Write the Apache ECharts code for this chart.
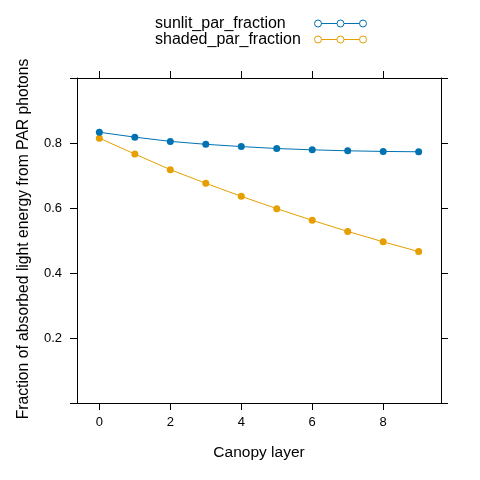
<!DOCTYPE html>
<html>
<head>
<meta charset="utf-8">
<script src="https://cdn.jsdelivr.net/npm/echarts@6/dist/echarts.min.js"></script>
<style>
  html, body { margin: 0; padding: 0; background: #fff; }
  #chart { width: 480px; height: 480px; }
</style>
</head>
<body>
<div id="chart"></div>
<script>
const layers = [0, 1, 2, 3, 4, 5, 6, 7, 8, 9];
const sunlit = [0.833, 0.818, 0.805, 0.796, 0.789, 0.783, 0.779, 0.776, 0.774, 0.773];
const shaded = [0.815, 0.766, 0.718, 0.676, 0.636, 0.598, 0.562, 0.528, 0.496, 0.466];
const xTicks = [0, 2, 4, 6, 8];
const seriesNames = ['sunlit_par_fraction', 'shaded_par_fraction'];
const colors = ['#0072B2', '#E69F00'];
const yTitle = 'Fraction of absorbed light energy from PAR photons';

const chart = echarts.init(document.getElementById('chart'));
const font = 'Liberation Sans, Arial, sans-serif';
const lineStyle = {color: '#000', width: 1};

// legend drawn as graphic: label + line with three open circles
const graphics = [];
seriesNames.forEach((name, i) => {
    const y = 23.5 + i * 16;
    graphics.push({
        type: 'text', x: 155, y: y,
        style: {text: name, fontSize: 16, fontFamily: font, fill: '#000', textVerticalAlign: 'middle'}
    });
    graphics.push({
        type: 'line', shape: {x1: 318, y1: y, x2: 363, y2: y},
        style: {stroke: colors[i], lineWidth: 1}
    });
    [318, 340.5, 363].forEach(cx => {
        graphics.push({
            type: 'circle', shape: {cx: cx, cy: y, r: 3.5},
            style: {fill: '#fff', stroke: colors[i], lineWidth: 1}
        });
    });
});
// y axis title
graphics.push({
    type: 'text', x: 24, y: 239, rotation: Math.PI / 2,
    style: {text: yTitle, fontSize: 15.7, fontFamily: font, fill: '#000', textAlign: 'center', textVerticalAlign: 'middle'}
});

const xBase = {
    type: 'value', min: -0.63, max: 9.63,
    axisLine: {show: true, onZero: false, lineStyle: lineStyle},
    splitLine: {show: false},
    axisTick: {show: true, inside: false, length: 7, customValues: xTicks, lineStyle: lineStyle}
};
const yBase = {
    type: 'value', min: 0, max: 1, interval: 0.2,
    axisLine: {show: true, onZero: false, lineStyle: lineStyle},
    splitLine: {show: false},
    axisTick: {show: true, inside: false, length: 7, lineStyle: lineStyle}
};

const option = {
    animation: false,
    backgroundColor: '#fff',
    grid: {left: 77, right: 39, top: 78, bottom: 77, containLabel: false},
    graphic: graphics,
    xAxis: [
        Object.assign({}, xBase, {
            position: 'bottom',
            name: 'Canopy layer', nameLocation: 'middle', nameGap: 42,
            nameTextStyle: {fontSize: 15.5, color: '#000', fontFamily: font},
            axisLabel: {customValues: xTicks, margin: 13, fontSize: 13, color: '#000', fontFamily: font}
        }),
        Object.assign({}, xBase, {position: 'top', axisLabel: {show: false}})
    ],
    yAxis: [
        Object.assign({}, yBase, {
            position: 'left',
            axisLabel: {
                margin: 15, fontSize: 13, color: '#000', fontFamily: font,
                formatter: v => (v === 0 || v === 1) ? '' : v.toFixed(1)
            }
        }),
        Object.assign({}, yBase, {position: 'right', axisLabel: {show: false}})
    ],
    series: seriesNames.map((name, i) => ({
        name: name,
        type: 'line',
        xAxisIndex: 0,
        yAxisIndex: 0,
        data: layers.map((x, j) => [x, i === 0 ? sunlit[j] : shaded[j]]),
        symbol: 'circle',
        symbolSize: 7,
        lineStyle: {color: colors[i], width: 1},
        itemStyle: {color: colors[i]},
        z: 2 - i
    }))
};
chart.setOption(option);
</script>
</body>
</html>
